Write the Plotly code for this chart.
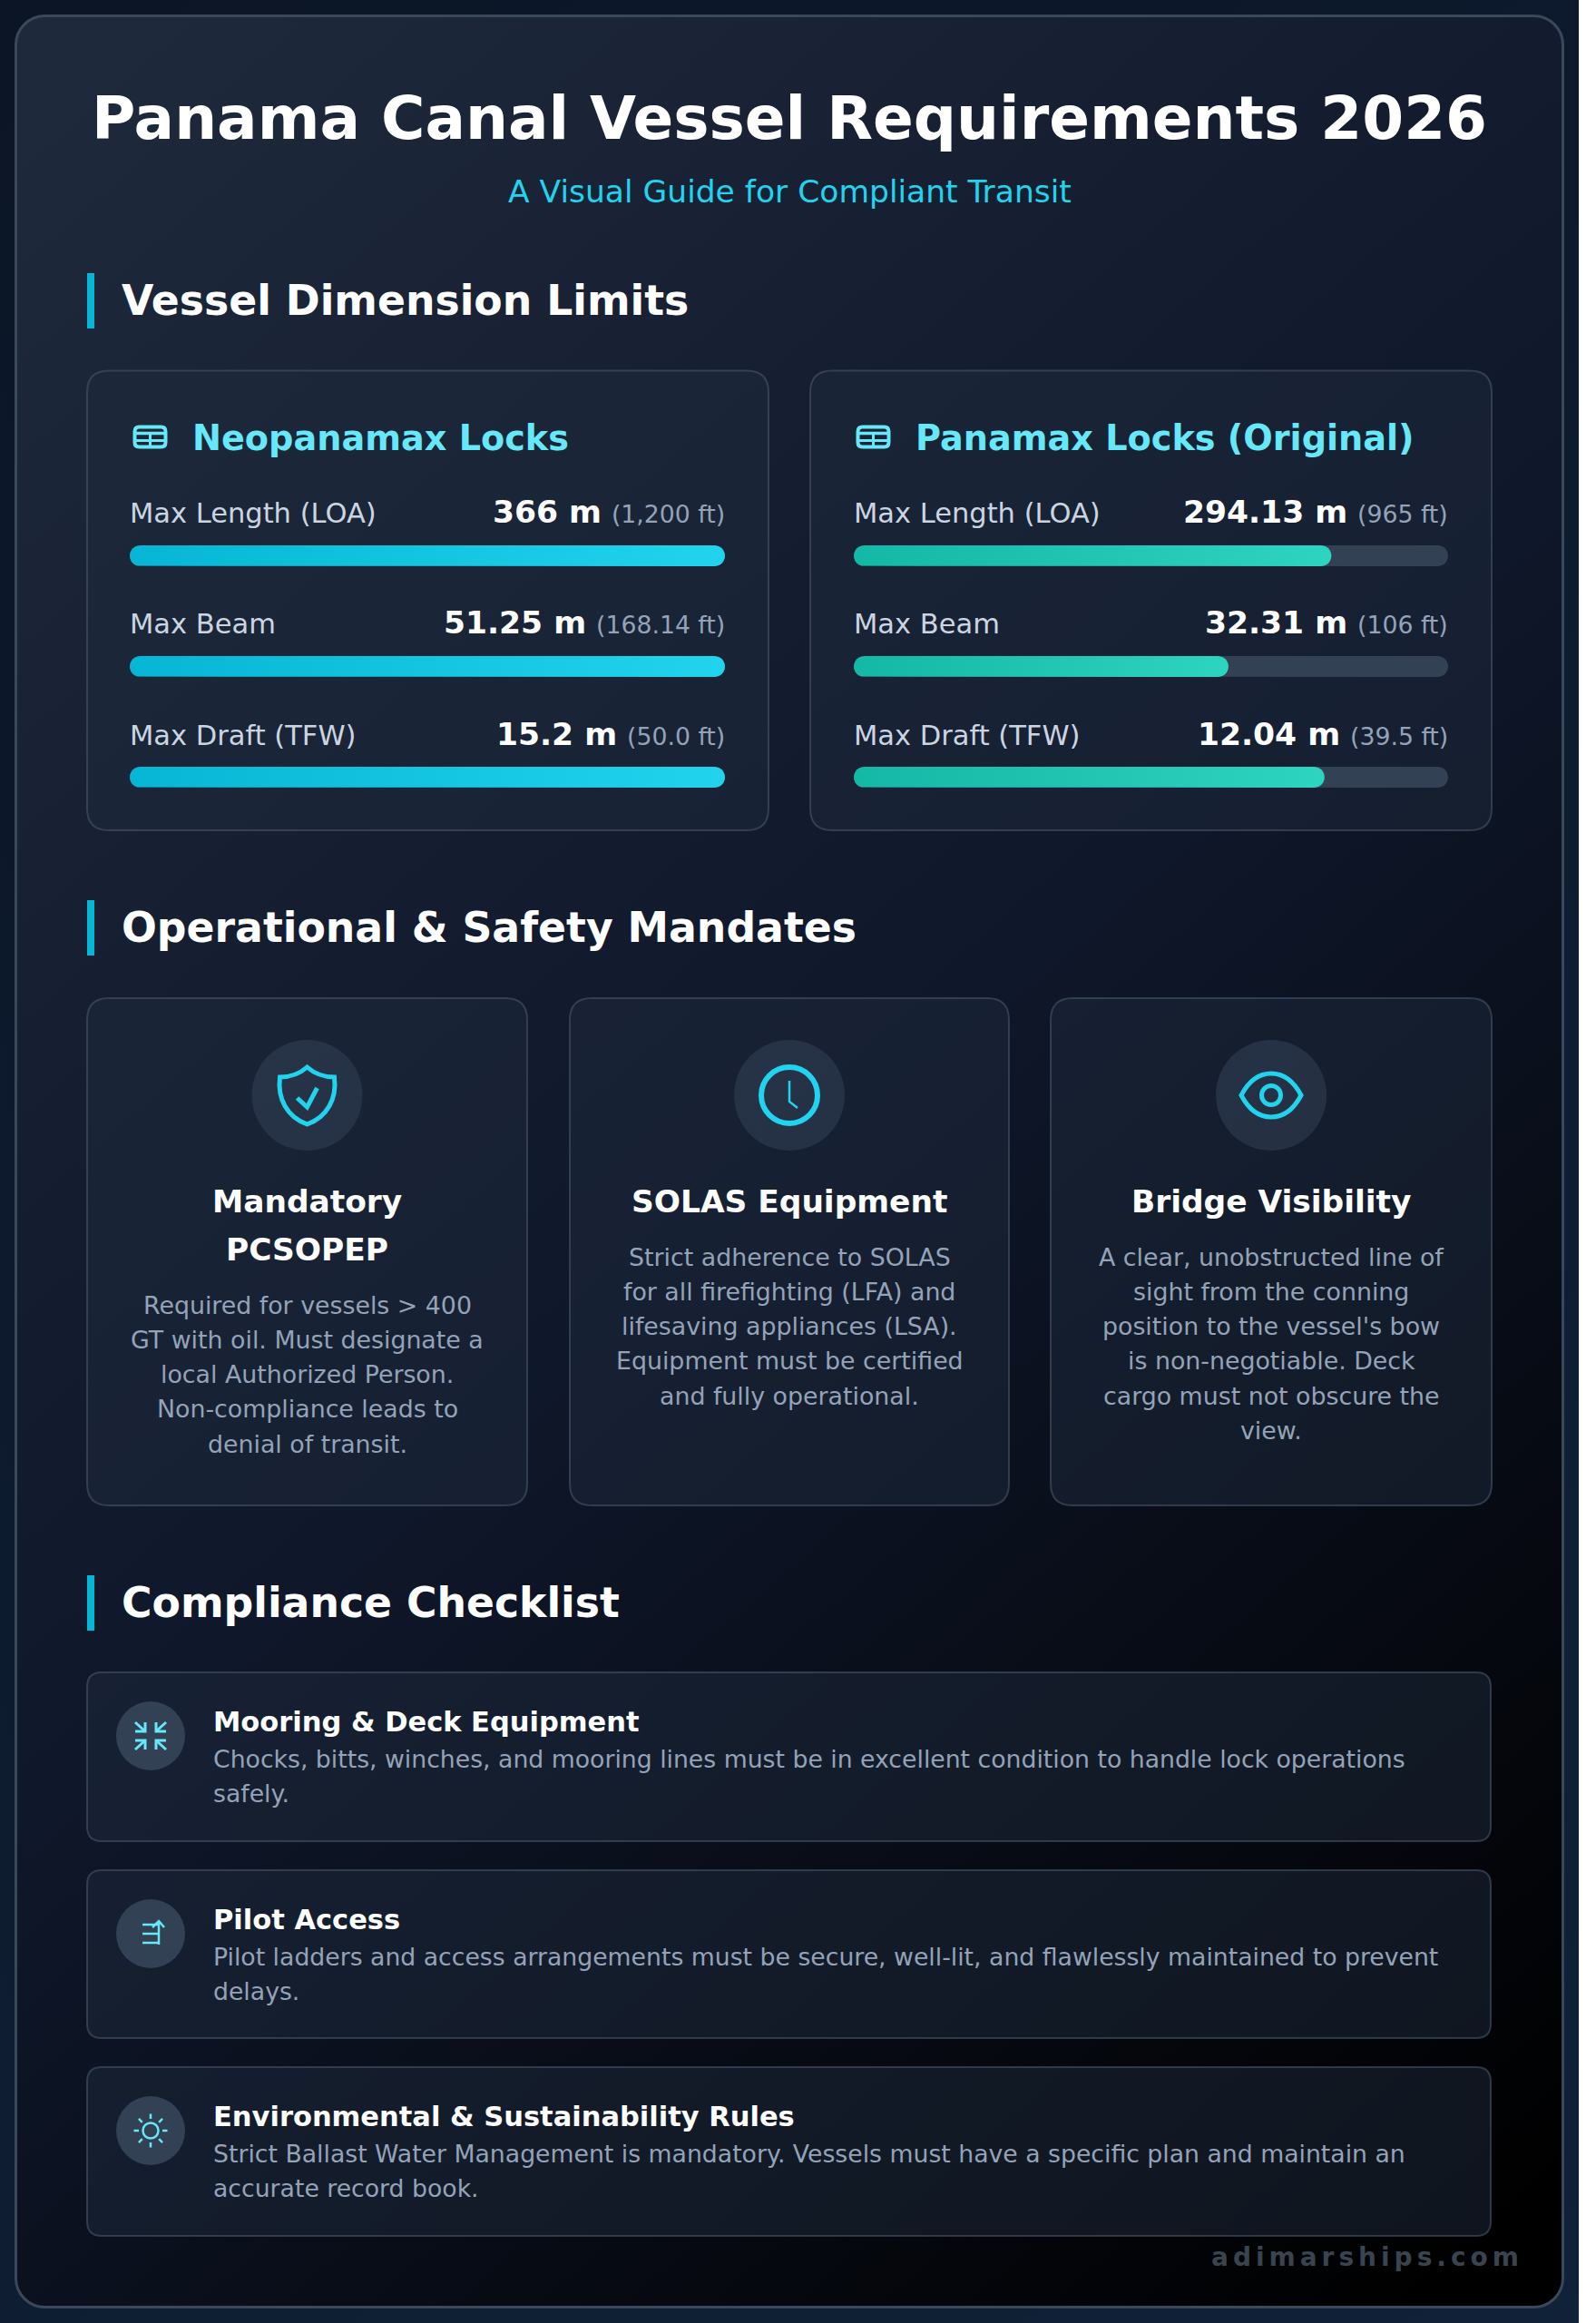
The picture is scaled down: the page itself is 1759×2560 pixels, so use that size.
import base64
import math
import plotly.graph_objects as go

W, H = 1759, 2560
FONT = "DejaVu Sans"

# dimension limits
dim_labels = ["Max Length (LOA)", "Max Beam", "Max Draft (TFW)"]
neo_m = [366, 51.25, 15.2]
neo_ft = ["1,200 ft", "168.14 ft", "50.0 ft"]
pan_m = [294.13, 32.31, 12.04]
pan_ft = ["965 ft", "106 ft", "39.5 ft"]

# mandates
mandate_titles = [["Mandatory", "PCSOPEP"], ["SOLAS Equipment"], ["Bridge Visibility"]]
mandate_lines = [
    ["Required for vessels > 400", "GT with oil. Must designate a", "local Authorized Person.",
     "Non-compliance leads to", "denial of transit."],
    ["Strict adherence to SOLAS", "for all firefighting (LFA) and", "lifesaving appliances (LSA).",
     "Equipment must be certified", "and fully operational."],
    ["A clear, unobstructed line of", "sight from the conning", "position to the vessel's bow",
     "is non-negotiable. Deck", "cargo must not obscure the", "view."],
]

# checklist
check_titles = ["Mooring & Deck Equipment", "Pilot Access", "Environmental & Sustainability Rules"]
check_lines = [
    ["Chocks, bitts, winches, and mooring lines must be in excellent condition to handle lock operations", "safely."],
    ["Pilot ladders and access arrangements must be secure, well-lit, and flawlessly maintained to prevent", "delays."],
    ["Strict Ballast Water Management is mandatory. Vessels must have a specific plan and maintain an", "accurate record book."],
]

# page background, gradients only
bg_svg = f"""<svg xmlns="http://www.w3.org/2000/svg" width="{W}" height="{H}" viewBox="0 0 {W} {H}">
<defs>
<linearGradient id="b" gradientUnits="userSpaceOnUse" x1="0" y1="0" x2="{W}" y2="{H}">
<stop offset="0" stop-color="#0b1526"/><stop offset="1" stop-color="#102238"/></linearGradient>
<linearGradient id="p" gradientUnits="userSpaceOnUse" x1="-60" y1="210" x2="1800" y2="2350">
<stop offset="0" stop-color="#1e293b"/><stop offset="0.5" stop-color="#0f172a"/><stop offset="1" stop-color="#000000"/></linearGradient>
</defs>
<rect x="0" y="0" width="1740" height="{H}" fill="url(#b)"/>
<rect x="17.5" y="17.5" width="1705" height="2525" rx="32" ry="32" fill="url(#p)" stroke="#3a485c" stroke-width="3"/>
</svg>"""
bg_src = "data:image/svg+xml;base64," + base64.b64encode(bg_svg.encode()).decode()

fig = go.Figure()
shapes = []
notes = []


def text(x, y, s, size, color, bold=False, anchor="left"):
    # annotations pad their box by about 2px, take that back so text sits on x
    if anchor == "left":
        x -= 2
    elif anchor == "right":
        x += 2
    notes.append(dict(x=x, y=y, xref="x", yref="y", text=f"<b>{s}</b>" if bold else s, showarrow=False,
                      xanchor=anchor, yanchor="middle", align=anchor,
                      font=dict(family=FONT, size=size, color=color)))


def card(x0, y0, x1, y1, r, fill="rgba(30,41,59,0.5)"):
    p = (f"M{x0+r},{y0} L{x1-r},{y0} Q{x1},{y0} {x1},{y0+r} L{x1},{y1-r} Q{x1},{y1} {x1-r},{y1} "
         f"L{x0+r},{y1} Q{x0},{y1} {x0},{y1-r} L{x0},{y0+r} Q{x0},{y0} {x0+r},{y0} Z")
    shapes.append(dict(type="path", path=p, xref="x", yref="y", layer="below", fillcolor=fill,
                       line=dict(color="rgba(71,85,105,0.6)", width=2)))


def circle(cx, cy, r, fill=None, line=None, width=0):
    s = dict(type="circle", x0=cx-r, x1=cx+r, y0=cy-r, y1=cy+r, xref="x", yref="y", layer="below",
             line=dict(color=line or "rgba(0,0,0,0)", width=width))
    if fill:
        s["fillcolor"] = fill
    shapes.append(s)


def stroke(cx, cy, pts, color, width):
    # open polyline, points relative to the icon centre
    p = "M" + " L".join(f"{cx+a},{cy+b}" for a, b in pts)
    shapes.append(dict(type="path", path=p, xref="x", yref="y", layer="below",
                       line=dict(color=color, width=width)))


def curve(cx, cy, cmds, color, width):
    # cmds: list of (letter, [(x, y), ...]) relative to the icon centre
    p = " ".join(c + " ".join(f"{cx+a},{cy+b}" for a, b in pts) for c, pts in cmds)
    shapes.append(dict(type="path", path=p, xref="x", yref="y", layer="below",
                       line=dict(color=color, width=width)))


def table_icon(cx, cy):
    c = "#67e8f9"
    card(cx-17, cy-11, cx+17, cy+11, 5, fill="rgba(0,0,0,0)")
    shapes[-1]["line"] = dict(color=c, width=4)
    stroke(cx, cy, [(-17, -4), (17, -4)], c, 3.5)
    stroke(cx, cy, [(-17, 4), (17, 4)], c, 3)
    stroke(cx, cy, [(0, -4), (0, 11)], c, 3)


# header
text(870, 130, "Panama Canal Vessel Requirements 2026", 66, "#ffffff", True, "center")
text(870, 211, "A Visual Guide for Compliant Transit", 34.5, "#22d3ee", False, "center")

# section headers
for y0, title in [(301, "Vessel Dimension Limits"), (992, "Operational &amp; Safety Mandates"), (1736, "Compliance Checklist")]:
    shapes.append(dict(type="rect", x0=96, x1=104, y0=y0, y1=y0+61, xref="x", yref="y", layer="below",
                       fillcolor="#06b6d4", line=dict(width=0)))
    text(134, y0+30, title, 45.7, "#ffffff", True)

# dimension cards
panel_x = [96, 893]
bar_x = [(143, 799), (941, 1596)]
row_y = [565, 687, 810]
names = ["Neopanamax Locks", "Panamax Locks (Original)"]
for k, (m, ft) in enumerate([(neo_m, neo_ft), (pan_m, pan_ft)]):
    x0 = panel_x[k]
    card(x0, 408.5, x0+751, 915, 24)
    table_icon(x0+69.5, 481.5)
    text(x0+116, 483, names[k], 38.2, "#67e8f9", True)
    for i, label in enumerate(dim_labels):
        text(bar_x[k][0], row_y[i], label, 30.5, "#cbd5e1")
        text(bar_x[k][1], row_y[i]-1.5,
             f'<b style="font-size:34.5px">{m[i]} m</b> <span style="font-size:26.7px;color:#94a3b8">({ft[i]})</span>',
             34.5, "#ffffff", False, "right")

# mandate cards
mandate_x = [(96, 581), (628, 1112), (1158, 1644)]
body_start = [1438, 1385, 1385]
for k, (x0, x1) in enumerate(mandate_x):
    cx = (x0+x1)/2
    card(x0, 1100, x1, 1659, 24)
    circle(cx, 1207, 61, fill="rgba(51,65,85,0.55)")
    for j, t in enumerate(mandate_titles[k]):
        text(cx, 1323.5+53*j, t, 34.4, "#ffffff", True, "center")
    for j, t in enumerate(mandate_lines[k]):
        text(cx, body_start[k]+38.3*j, t, 26.8, "#94a3b8", False, "center")

# shield
sx, sy = 338.5, 1207
curve(sx, sy, [("M", [(0, -31)]), ("C", [(-9, -23), (-20, -20), (-30, -20)]),
               ("C", [(-33, 4), (-22, 24), (0, 32)]), ("C", [(22, 24), (33, 4), (30, -20)]),
               ("C", [(20, -20), (9, -23), (0, -31)]), ("Z", [])], "#22d3ee", 5)
stroke(sx, sy, [(-11, 3), (0, 13), (11, -8)], "#22d3ee", 5)
# clock
circle(870, 1207, 31, line="#22d3ee", width=6)
stroke(870, 1207, [(0, -16), (0, 7), (9, 14)], "#22d3ee", 2.5)
# eye
curve(1401, 1207, [("M", [(-33, 0)]), ("C", [(-24, -17), (-12, -24), (0, -24)]),
                   ("C", [(12, -24), (24, -17), (33, 0)]), ("C", [(24, 17), (12, 24), (0, 24)]),
                   ("C", [(-12, 24), (-24, 17), (-33, 0)]), ("Z", [])], "#22d3ee", 5)
circle(1401, 1207, 10.5, line="#22d3ee", width=5)

# checklist cards
check_y = [(1843, 2029), (2061, 2246), (2278, 2464)]
for k, (y0, y1) in enumerate(check_y):
    card(96, y0, 1643, y1, 16)
    circle(166, y0+70, 38, fill="#334155")
    text(235, y0+54, check_titles[k].replace("&", "&amp;"), 30.5, "#ffffff", True)
    for j, t in enumerate(check_lines[k]):
        text(235, y0+95+38*j, t, 26.7, "#94a3b8")

# compress icon
ic = "#67e8f9"
for a in (-1, 1):
    for b in (-1, 1):
        stroke(166, 1913, [(a*17, b*15), (a*6, b*5)], ic, 3)
        stroke(166, 1913, [(a*17, b*5), (a*6, b*5), (a*6, b*15)], ic, 3)
# ladder icon
for dy in (-10, 0, 10):
    stroke(166, 2131, [(-9, dy), (9, dy)], ic, 2.5)
stroke(166, 2131, [(9, -13), (9, 12)], ic, 2.5)
stroke(166, 2131, [(2, -7), (9, -14), (15, -7)], ic, 2.5)
# sun icon
circle(166, 2348, 8.5, line=ic, width=2.5)
for a, b in [(1, 0), (-1, 0), (0, 1), (0, -1), (.707, .707), (-.707, .707), (.707, -.707), (-.707, -.707)]:
    stroke(166, 2348, [(a*13, b*13), (a*18.5, b*18.5)], ic, 2.5)

# watermark
text(1678.5, 2487, "adimarships.com", 28, "#3a4350", True, "right")

# page axis, pixels
fig.add_trace(go.Scatter(x=[], y=[], hoverinfo="skip"))


def pill(value, row, rx, ry):
    # rounded outline of one progress bar in axis units, a few points on each corner
    half = 23/244
    xs, ys = [], []
    for deg in range(-90, 91, 15):
        a = math.radians(deg)
        xs.append(value-rx+rx*math.cos(a))
        ys.append(row+ry*math.sin(a))
    for deg in range(90, 271, 15):
        a = math.radians(deg)
        xs.append(rx+rx*math.cos(a))
        ys.append(row+ry*math.sin(a))
    return xs+xs[:1], ys+ys[:1]


bar_colors = [("#06b6d4", "#22d3ee"), ("#14b8a6", "#2dd4bf")]
for k, m in enumerate([neo_m, pan_m]):
    frac = [v/lim for v, lim in zip(m, neo_m)]
    n = str(k+2)
    c0, c1 = bar_colors[k]
    for i, f in enumerate(frac):
        # track, then the share of the Neopanamax limit on top of it
        px, py = pill(1, i, 11.5/656, 11.5/122)
        fig.add_trace(go.Scatter(x=px, y=py, mode="lines", line=dict(width=0), fill="toself", fillcolor="#334155",
                                 xaxis="x"+n, yaxis="y"+n, hoverinfo="skip"))
        px, py = pill(f, i, 11.5/656, 11.5/122)
        fig.add_trace(go.Scatter(x=px, y=py, mode="lines", line=dict(width=0), fill="toself",
                                 fillgradient=dict(type="horizontal", colorscale=[[0, c0], [1, c1]]),
                                 xaxis="x"+n, yaxis="y"+n, hoverinfo="skip"))

hidden = dict(visible=False, showgrid=False, zeroline=False)
axes = dict(xaxis=dict(range=[0, W], domain=[0, 1], **hidden), yaxis=dict(range=[H, 0], domain=[0, 1], **hidden))
for k, (x0, x1) in enumerate(bar_x):
    n = str(k+2)
    axes["xaxis"+n] = dict(range=[0, 1], domain=[x0/W, x1/W], anchor="y"+n, **hidden)
    axes["yaxis"+n] = dict(range=[2.5, -0.5], domain=[1-917.5/H, 1-551.5/H], anchor="x"+n, **hidden)

fig.update_layout(width=W, height=H, margin=dict(l=0, r=0, t=0, b=0), paper_bgcolor="#ffffff", plot_bgcolor="rgba(0,0,0,0)",
                  showlegend=False, shapes=shapes, annotations=notes,
                  images=[dict(source=bg_src, xref="paper", yref="paper", x=0, y=1, sizex=1, sizey=1,
                               sizing="stretch", xanchor="left", yanchor="top", layer="below")],
                  **axes)

post = """
document.body.style.margin = '0';
document.documentElement.style.overflow = 'hidden';
document.querySelectorAll('.annotation-text').forEach(function (t) {
  if (t.textContent === 'adimarships.com') { t.style.letterSpacing = '5px'; }
});
"""
fig.write_html("out.html", config=dict(displayModeBar=False), post_script=post)
